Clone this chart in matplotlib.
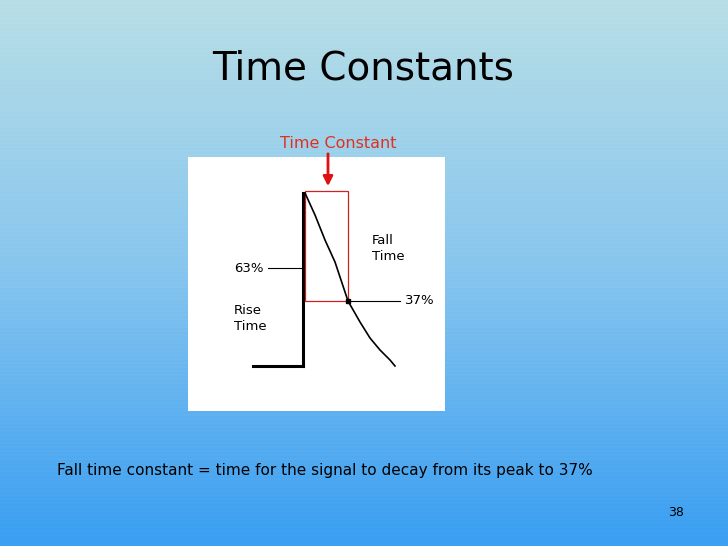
import numpy as np
import matplotlib
matplotlib.use("Agg")
import matplotlib.pyplot as plt
from matplotlib.colors import LinearSegmentedColormap
from matplotlib.patches import Rectangle

# data (pixel coordinates of the schematic)
decay_x = [305, 315, 325, 335, 348, 360, 370, 380, 390, 395]
decay_y = [193, 215, 240, 262, 301, 322, 338, 350, 360, 366]
baseline_x = [253, 303]
baseline_y = [366, 366]
rise_x = [303, 303]
rise_y = [366, 193]

W, H = 728, 546
fig = plt.figure(figsize=(7.28, 5.46), dpi=100)
ax = fig.add_axes([0, 0, 1, 1])
ax.set_xlim(0, W); ax.set_ylim(H, 0); ax.axis('off')

cmap = LinearSegmentedColormap.from_list('bg', ['#b9dfe6', '#88c6ee', '#3b9ff2'])
grad = np.linspace(0, 1, H)[:, None] * np.ones((1, 10))
stripes = (np.arange(H) % 4 < 2)[:, None] * 0.02
ax.imshow(grad + stripes, cmap=cmap, extent=[0, W, H, 0], aspect='auto', zorder=0, vmin=0, vmax=1)

ax.add_patch(Rectangle((188, 157), 257, 254, facecolor='white', edgecolor='none', zorder=1))
ax.plot(baseline_x, baseline_y, color='black', lw=2.2, zorder=3)
ax.plot(rise_x, rise_y, color='black', lw=2.2, zorder=3)
ax.plot(decay_x, decay_y, color='black', lw=1.2, zorder=3)
ax.add_patch(Rectangle((305, 191), 43, 110, facecolor='none', edgecolor='#cc2222', lw=0.9, zorder=2))
ax.plot([268, 302], [268, 268], color='black', lw=0.8, zorder=3)
ax.plot([348, 400], [301, 301], color='black', lw=0.8, zorder=3)
ax.plot([348], [301], marker='s', ms=2.5, color='black', zorder=4)

ax.text(363, 68, 'Time Constants', fontsize=28, ha='center', va='center', color='black')
ax.text(338, 143, 'Time Constant', fontsize=11.5, ha='center', va='center', color='#e03020')
ax.annotate('', xy=(328, 189), xytext=(328, 151),
            arrowprops=dict(arrowstyle='-|>', color='#dd1111', lw=2, mutation_scale=14))
ax.text(372, 249, 'Fall\nTime', fontsize=9.5, ha='left', va='center', linespacing=1.3)
ax.text(234, 268, '63%', fontsize=9.5, ha='left', va='center')
ax.text(234, 319, 'Rise\nTime', fontsize=9.5, ha='left', va='center', linespacing=1.3)
ax.text(405, 300, '37%', fontsize=9.5, ha='left', va='center')
ax.text(57, 470, 'Fall time constant = time for the signal to decay from its peak to 37%',
        fontsize=11, ha='left', va='center')
ax.text(676, 512, '38', fontsize=9, ha='center', va='center')

fig.savefig('out.png', dpi=100)
